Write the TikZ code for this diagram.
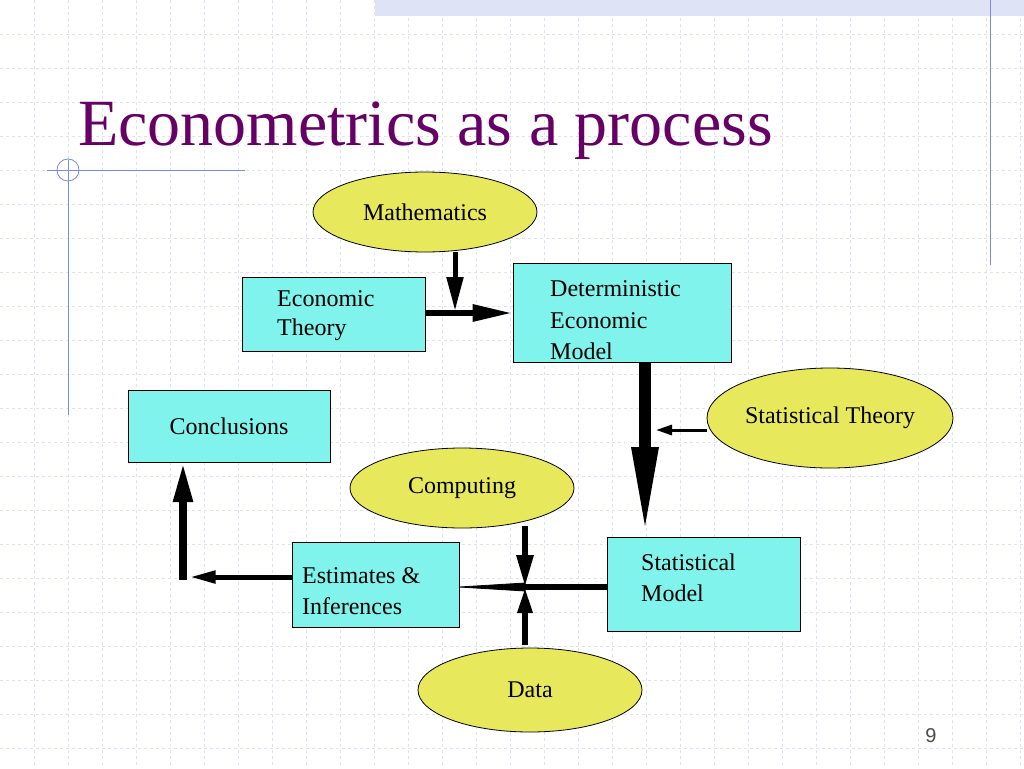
\documentclass[tikz,border=0pt]{standalone}
\usepackage{fontspec}
\setmainfont{Liberation Serif}
\newfontfamily\pgsans{Liberation Sans}
\usetikzlibrary{arrows.meta,shapes.geometric}
\definecolor{cyanbox}{RGB}{128,244,236}
\definecolor{yel}{RGB}{232,232,92}
\definecolor{gridc}{RGB}{222,226,245}
\definecolor{deco}{RGB}{120,140,220}
\definecolor{titlec}{RGB}{102,0,102}
\begin{document}
\begin{tikzpicture}[x=1pt,y=-1pt,
  box/.style={draw=black,fill=cyanbox,line width=0.8pt},
  oval/.style={draw=black,fill=yel,line width=0.8pt},
  lbl/.style={anchor=west,font=\fontsize{24}{28}\selectfont,inner sep=0}]
\useasboundingbox (0,0) rectangle (1024,768);
\fill[white] (0,0) rectangle (1024,768);
\foreach \i in {1,...,30} \draw[gridc,dashed,line width=0.8pt] (\i*34,0) -- (\i*34,768);
\foreach \i in {1,...,22} \draw[gridc,dashed,line width=0.8pt] (0,\i*34) -- (1024,\i*34);
\fill[gridc!80!deco!60] (375,0) rectangle (1024,16);
\draw[deco,line width=0.8pt] (990,0) -- (990,265);
\draw[deco,line width=0.8pt] (47,170) -- (245,170);
\draw[deco,line width=0.8pt] (68,160) -- (68,415);
\draw[deco,line width=0.8pt] (68,170) circle (11);
\node[anchor=base west,text=titlec,font=\fontsize{66}{70}\selectfont,inner sep=0] (title) at (78,145) {Econometrics as a process};
% shapes
\node[oval,ellipse,minimum width=224,minimum height=80] (math) at (425,212) {};
\node[lbl,anchor=center] at (math) {Mathematics};
\node[box,minimum width=183,minimum height=74] (econ) at (333.5,314) {};
\node[lbl] at (277,299) {Economic};
\node[lbl] at (277,330) {Theory};
\node[box,minimum width=218,minimum height=99] (det) at (622,312.5) {};
\node[lbl] at (550,289) {Deterministic};
\node[lbl] at (550,321) {Economic};
\node[lbl] at (550,351) {Model};
\node[oval,ellipse,minimum width=246,minimum height=100] (stth) at (830,418) {};
\node[lbl,anchor=center] at (830,418) {Statistical Theory};
\node[box,minimum width=202,minimum height=72] (conc) at (229,426) {};
\node[lbl,anchor=center] at (conc) {Conclusions};
\node[oval,ellipse,minimum width=224,minimum height=80] (comp) at (462,488) {};
\node[lbl,anchor=center] at (462,488) {Computing};
\node[box,minimum width=167,minimum height=85] (est) at (375.5,584.5) {};
\node[lbl] at (302,576) {Estimates \&};
\node[lbl] at (302,606) {Inferences};
\node[box,minimum width=193,minimum height=94] (smod) at (703.5,584) {};
\node[lbl] at (641,562) {Statistical};
\node[lbl] at (641,593) {Model};
\node[oval,ellipse,minimum width=224,minimum height=84] (data) at (530,690) {};
\node[lbl,anchor=center] at (data) {Data};
\node[font=\pgsans\fontsize{20}{24}\selectfont,text=black!70] (pg) at (931,736) {9};
% connectors
\coordinate (j) at (525,587);
\coordinate (cl) at (183,577);
\draw[line width=5pt,-{Triangle[width=16pt,length=34pt]}] (455,252) -- (455,311);
\draw[line width=6pt,-{Triangle[width=16pt,length=40pt]}] (econ.east|-0,313) -- (det.west|-0,313);
\draw[line width=12pt,-{Triangle[width=24pt,length=90pt]}] (645,362) -- (645,537);
\draw[line width=3pt,-{Triangle[width=10pt,length=16pt]}] (707,430) -- (656,430);
\draw[line width=6pt] (smod.west|-j) -- (j);
\draw[line width=0.8pt,fill=black] (j) ++(0,-4) -- (459,587) -- ++(66,4) -- cycle;
\draw[line width=6pt,-{Triangle[width=16pt,length=32pt]}] (525,526) -- (j);
\draw[line width=6pt,-{Triangle[width=14pt,length=26pt]}] (525,645) -- (j);
\draw[line width=5pt,-{Triangle[width=12pt,length=26pt]}] (est.west|-cl) -- ++(-102,0);
\draw[line width=8pt,-{Triangle[width=18pt,length=40pt]}] (cl)++(0,3) -- (183,462);
\end{tikzpicture}
\end{document}
